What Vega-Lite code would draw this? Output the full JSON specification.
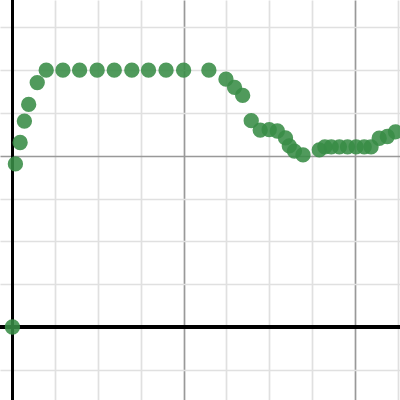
{
  "$schema": "https://vega.github.io/schema/vega-lite/v6.json",
  "width": 400,
  "height": 400,
  "padding": 0,
  "autosize": "none",
  "config": {"view": {"stroke": null}},
  "data": {
    "values": [
      {"x": 0.0, "y": 0.0},
      {"x": 0.07, "y": 3.81},
      {"x": 0.18, "y": 4.31},
      {"x": 0.28, "y": 4.81},
      {"x": 0.38, "y": 5.2},
      {"x": 0.58, "y": 5.71},
      {"x": 0.79, "y": 6.0},
      {"x": 1.18, "y": 6.0},
      {"x": 1.57, "y": 6.0},
      {"x": 1.98, "y": 6.0},
      {"x": 2.38, "y": 6.0},
      {"x": 2.79, "y": 6.0},
      {"x": 3.18, "y": 6.0},
      {"x": 3.59, "y": 6.0},
      {"x": 4.0, "y": 6.0},
      {"x": 4.59, "y": 6.0},
      {"x": 4.99, "y": 5.79},
      {"x": 5.19, "y": 5.6},
      {"x": 5.38, "y": 5.41},
      {"x": 5.58, "y": 4.82},
      {"x": 5.79, "y": 4.6},
      {"x": 6.0, "y": 4.61},
      {"x": 6.19, "y": 4.58},
      {"x": 6.38, "y": 4.42},
      {"x": 6.47, "y": 4.23},
      {"x": 6.59, "y": 4.11},
      {"x": 6.79, "y": 4.02},
      {"x": 7.17, "y": 4.14},
      {"x": 7.3, "y": 4.21},
      {"x": 7.45, "y": 4.21},
      {"x": 7.64, "y": 4.21},
      {"x": 7.83, "y": 4.21},
      {"x": 8.03, "y": 4.21},
      {"x": 8.22, "y": 4.21},
      {"x": 8.38, "y": 4.21},
      {"x": 8.57, "y": 4.41},
      {"x": 8.76, "y": 4.45},
      {"x": 8.95, "y": 4.56}
    ]
  },
  "encoding": {
    "x": {
      "field": "x",
      "type": "quantitative",
      "scale": {"domain": [-0.29, 9.056], "nice": false, "zero": false},
      "axis": {
        "values": [0, 1, 2, 3, 4, 5, 6, 7, 8, 9],
        "labels": false, "ticks": false, "domain": false, "title": null,
        "grid": true, "gridWidth": 1.7,
        "gridColor": {"condition": {"test": "datum.value % 4 === 0", "value": "#999999"}, "value": "#e0e0e0"}
      }
    },
    "y": {
      "field": "y",
      "type": "quantitative",
      "scale": {"domain": [-1.706, 7.64], "nice": false, "zero": false},
      "axis": {
        "values": [-1, 0, 1, 2, 3, 4, 5, 6, 7],
        "labels": false, "ticks": false, "domain": false, "title": null,
        "grid": true, "gridWidth": 1.7,
        "gridColor": {"condition": {"test": "datum.value % 4 === 0", "value": "#999999"}, "value": "#e0e0e0"}
      }
    }
  },
  "layer": [
    {
      "mark": {"type": "rule", "color": "black", "strokeWidth": 2.7},
      "encoding": {"x": {"datum": 0}, "y": null}
    },
    {
      "mark": {"type": "rule", "color": "black", "strokeWidth": 2.7},
      "encoding": {"y": {"datum": 0}, "x": null}
    },
    {
      "mark": {"type": "circle", "color": "#388c46", "opacity": 0.88, "size": 235}
    }
  ]
}
